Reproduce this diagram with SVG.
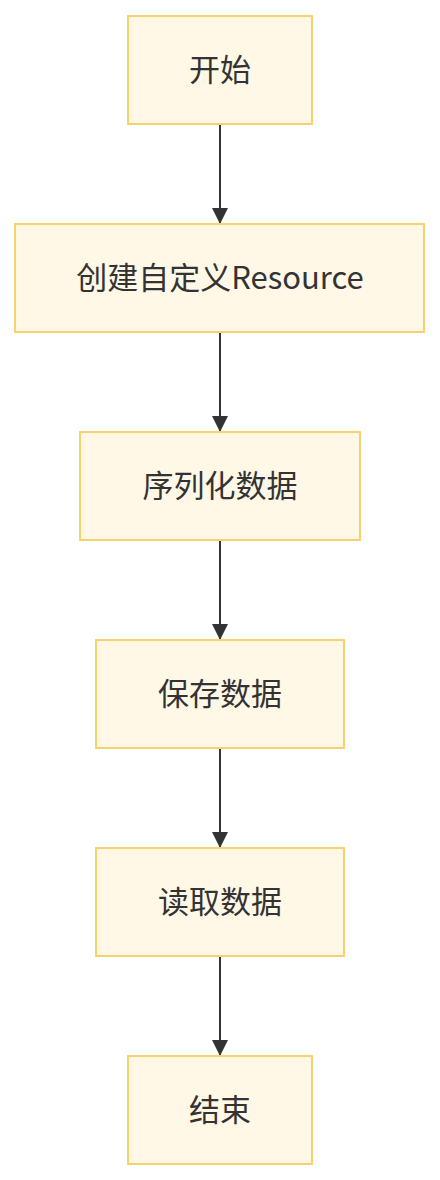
<svg xmlns="http://www.w3.org/2000/svg" width="440" height="1180" viewBox="0 0 440 1180">
<defs>
<style>
.node rect{fill:#FFF8E7;stroke:#F6D36B;stroke-width:2}
.node text{font-family:"Noto Sans CJK SC","Noto Sans",sans-serif;font-size:31px;fill:#333333;text-anchor:middle;dominant-baseline:central}
.edge{stroke:#333333;stroke-width:2;fill:none}
</style>
<marker id="arrow" markerWidth="16" markerHeight="16" refX="15" refY="8" orient="auto" markerUnits="userSpaceOnUse" viewBox="0 0 16 16">
<path d="M0,0 L16,8 L0,16 Z" fill="#333333"/>
</marker>
</defs>
<rect width="440" height="1180" fill="#FFFFFF"/>
<g id="connectors">
<line class="edge" x1="220" y1="124" x2="220" y2="223" marker-end="url(#arrow)"/>
<line class="edge" x1="220" y1="332" x2="220" y2="431" marker-end="url(#arrow)"/>
<line class="edge" x1="220" y1="540" x2="220" y2="639" marker-end="url(#arrow)"/>
<line class="edge" x1="220" y1="748" x2="220" y2="847" marker-end="url(#arrow)"/>
<line class="edge" x1="220" y1="956" x2="220" y2="1055" marker-end="url(#arrow)"/>
</g>
<g id="start" class="node"><rect x="128" y="16" width="184" height="108"/><text x="220" y="67">开始</text></g>
<g id="create" class="node"><rect x="15" y="224" width="409" height="108"/><text x="220" y="275">创建自定义Resource</text></g>
<g id="serialize" class="node"><rect x="80" y="432" width="280" height="108"/><text x="220" y="483">序列化数据</text></g>
<g id="save" class="node"><rect x="96" y="640" width="248" height="108"/><text x="220" y="691">保存数据</text></g>
<g id="read" class="node"><rect x="96" y="848" width="248" height="108"/><text x="220" y="899">读取数据</text></g>
<g id="end" class="node"><rect x="128" y="1056" width="184" height="108"/><text x="220" y="1107">结束</text></g>
</svg>
